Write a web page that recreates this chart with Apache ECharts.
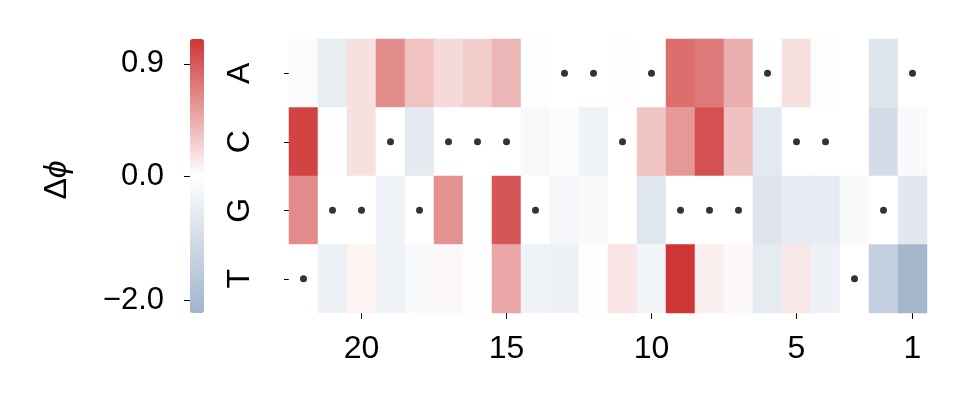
<!DOCTYPE html>
<html>
<head>
<meta charset="utf-8">
<script src="https://cdn.jsdelivr.net/npm/echarts@6/dist/echarts.min.js"></script>
<style>
  html, body { margin: 0; padding: 0; background: #fff; }
  #chart { width: 966px; height: 410px; }
</style>
</head>
<body>
<div id="chart"></div>
<script>
// positions along the guide, left to right
const positions = ['22', '21', '20', '19', '18', '17', '16', '15', '14', '13', '12',
                   '11', '10', '9', '8', '7', '6', '5', '4', '3', '2', '1']
const bases = ['A', 'C', 'G', 'T']
// reference base at each position (marked with a dot)
const refSeq = ['T', 'G', 'G', 'C', 'G', 'C', 'C', 'C', 'G', 'A', 'A',
                'C', 'A', 'G', 'G', 'G', 'A', 'C', 'C', 'T', 'G', 'A']

// delta phi per base, same order as positions
const rowA = [-0.08, -0.53, 0.17, 0.62, 0.33, 0.20, 0.28, 0.40, -0.04, 0, 0,
              0.01, 0, 0.79, 0.73, 0.44, 0, 0.17, -0.06, 0.0, -0.79, 0]
const rowC = [1.02, -0.02, 0.17, 0, -0.63, 0, 0, 0, -0.21, -0.09, -0.37,
              0, 0.32, 0.56, 0.95, 0.34, -0.65, 0, 0, -0.01, -1.02, -0.14]
const rowG = [0.63, 0, 0, -0.37, 0, 0.60, -0.06, 0.92, 0, -0.25, -0.19,
              -0.01, -0.74, 0, 0, 0, -0.79, -0.58, -0.56, -0.16, 0, -0.67]
const rowT = [0, -0.42, 0.065, -0.37, -0.19, 0.04, -0.02, 0.48, -0.37, -0.42, 0.01,
              0.14, -0.30, 1.10, 0.09, 0.04, -0.60, 0.13, -0.42, 0, -1.37, -2.13]

const xTickLabels = ['20', '15', '10', '5', '1']
const cbarTicks = [0.9, 0.0, -2.0]
const vmin = -2.2
const vmax = 1.1

// two-slope norm: centre stays at 0
const norm = (v) => v >= 0 ? v / vmax : -v / vmin
const unnorm = (t) => t >= 0 ? t * vmax : -t * vmin

const rows = [rowA, rowC, rowG, rowT]
const cells = []
rows.forEach((row, yi) => {
    row.forEach((v, xi) => {
        cells.push([xi, yi, norm(v), v])
    })
})
const dots = refSeq.map((b, xi) => [xi, bases.indexOf(b)])

const font = 'Liberation Sans'
const showX = (i, v) => xTickLabels.includes(v)

const myChart = echarts.init(document.getElementById('chart'))
const option = {
    animation: false,
    backgroundColor: '#fff',
    grid: [
        { left: 289, top: 39, width: 638, height: 274 },
        { left: 190, top: 39, width: 14, height: 274 }
    ],
    xAxis: [
        {
            type: 'category',
            gridIndex: 0,
            data: positions,
            axisLine: { show: false },
            axisTick: {
                show: true,
                alignWithLabel: true,
                interval: showX,
                length: 6,
                lineStyle: { color: '#000', width: 1 }
            },
            axisLabel: {
                interval: showX,
                fontFamily: font,
                fontSize: 32,
                color: '#000',
                margin: 20
            },
            splitLine: { show: false }
        },
        { type: 'value', gridIndex: 1, show: false, min: 0, max: 1 }
    ],
    yAxis: [
        {
            type: 'category',
            gridIndex: 0,
            data: bases,
            inverse: true,
            axisLine: { show: false },
            axisTick: {
                show: true,
                alignWithLabel: true,
                length: 5,
                lineStyle: { color: '#000', width: 1 }
            },
            axisLabel: {
                rotate: 90,
                fontFamily: font,
                fontSize: 32,
                color: '#000',
                margin: 33
            },
            splitLine: { show: false }
        },
        {
            type: 'value',
            gridIndex: 1,
            min: -1,
            max: 1,
            position: 'left',
            axisLine: { show: false },
            splitLine: { show: false },
            axisTick: {
                show: true,
                length: 6,
                customValues: cbarTicks.map(norm),
                lineStyle: { color: '#000', width: 1 }
            },
            axisLabel: {
                customValues: cbarTicks.map(norm),
                formatter: (t) => {
                    const v = unnorm(t)
                    return (v < 0 ? '\u2212' : '') + Math.abs(v).toFixed(1)
                },
                fontFamily: font,
                fontSize: 31,
                color: '#000',
                margin: 26
            }
        }
    ],
    visualMap: {
        type: 'continuous',
        show: true,
        min: -1,
        max: 1,
        dimension: 2,
        seriesIndex: 0,
        calculable: false,
        hoverLink: false,
        orient: 'vertical',
        left: 190,
        top: 39,
        padding: 0,
        itemWidth: 14,
        itemHeight: 274,
        inRange: { color: ['#a0b4cb', '#ffffff', '#ce3535'] }
    },
    graphic: [
        {
            type: 'text',
            x: 57,
            y: 180,
            rotation: Math.PI / 2,
            style: {
                text: '{d|Δ}{p|ϕ}',
                align: 'center',
                verticalAlign: 'middle',
                rich: {
                    d: { fontFamily: font, fontSize: 32, fill: '#000' },
                    p: { fontFamily: font, fontSize: 32, fontStyle: 'italic', fill: '#000' }
                }
            }
        }
    ],
    series: [
        {
            type: 'heatmap',
            xAxisIndex: 0,
            yAxisIndex: 0,
            data: cells,
            itemStyle: { borderWidth: 0 },
            emphasis: { disabled: true }
        },
        {
            type: 'scatter',
            xAxisIndex: 0,
            yAxisIndex: 0,
            data: dots,
            symbol: 'circle',
            symbolSize: 7,
            itemStyle: { color: '#000' },
            emphasis: { disabled: true }
        }
    ]
}
myChart.setOption(option)
</script>
</body>
</html>
